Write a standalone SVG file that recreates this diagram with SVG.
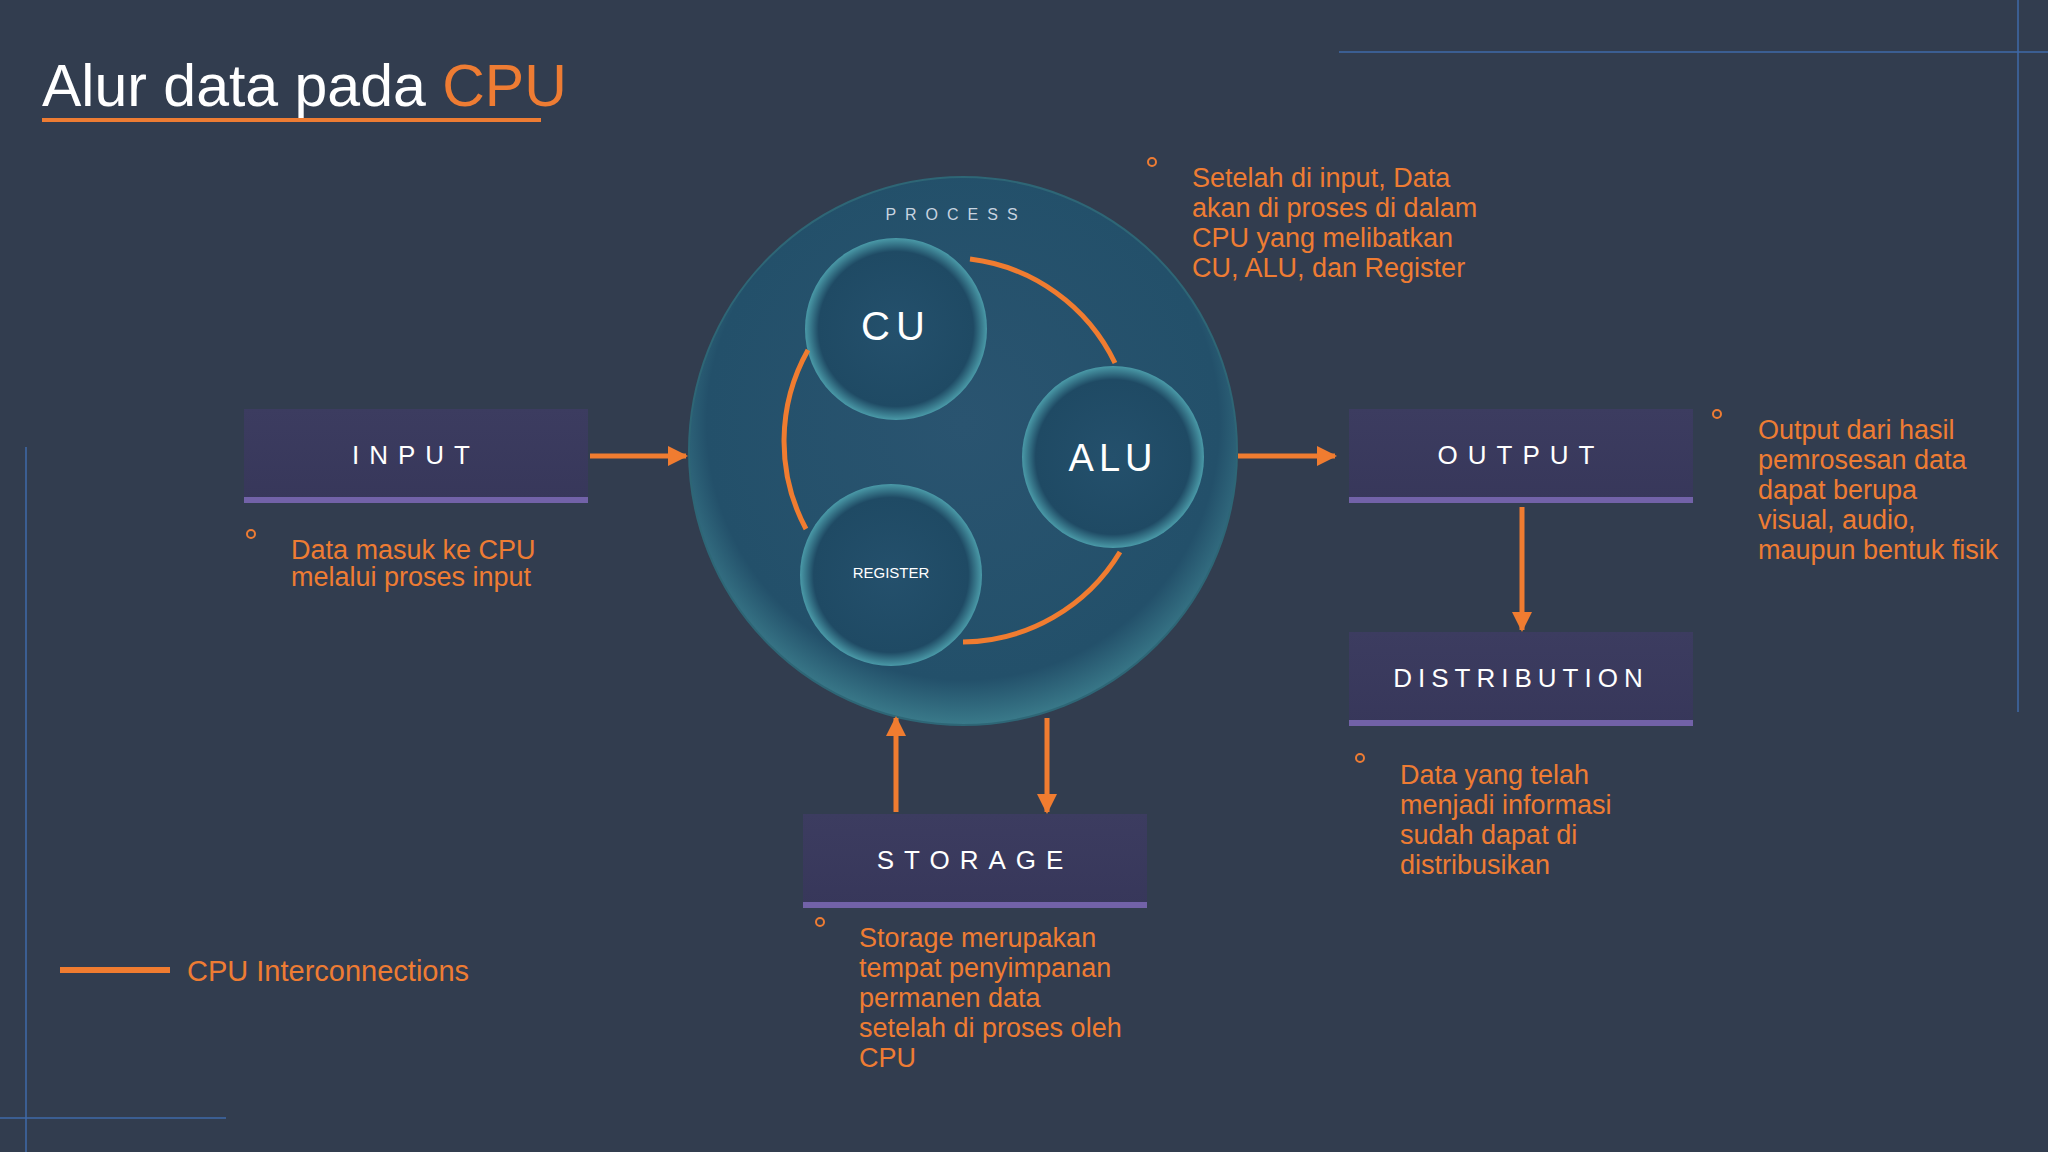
<svg xmlns="http://www.w3.org/2000/svg" width="2048" height="1152" viewBox="0 0 2048 1152">
<defs>
<radialGradient id="big" cx="50%" cy="45%" r="55%"><stop offset="0" stop-color="#2a5470"/><stop offset="0.85" stop-color="#23506a"/><stop offset="1" stop-color="#3a7a8a"/></radialGradient>
<radialGradient id="small" cx="50%" cy="50%" r="50%"><stop offset="0" stop-color="#24506c"/><stop offset="0.85" stop-color="#1f4a64"/><stop offset="1" stop-color="#4a9aa8"/></radialGradient>
<linearGradient id="bx" x1="0" y1="0" x2="0" y2="1"><stop offset="0" stop-color="#3c3c60"/><stop offset="1" stop-color="#37375a"/></linearGradient>
<marker id="ah" viewBox="0 0 10 10" refX="9" refY="5" markerWidth="4" markerHeight="4" orient="auto"><path d="M0,0L10,5L0,10z" fill="#f07c30"/></marker>
</defs>
<style>
.t{font-family:"Liberation Sans",Arial,sans-serif}
.o{fill:#ee7c33;font-size:27px}
.box{fill:url(#bx)}
.bb{fill:#7262a8}
.bl{fill:#ffffff;font-size:26px;letter-spacing:10px;text-anchor:middle}
.ln{stroke:#f07c30;stroke-width:5;fill:none}
.bul{fill:none;stroke:#ee7c33;stroke-width:2}
.thin{stroke:#3f6aa8;stroke-width:1.5}
</style>
<rect width="2048" height="1152" fill="#323d4f"/>
<line class="thin" x1="1339" y1="52" x2="2048" y2="52"/>
<line class="thin" x1="2018" y1="0" x2="2018" y2="712"/>
<line class="thin" x1="26" y1="447" x2="26" y2="1152"/>
<line class="thin" x1="0" y1="1118" x2="226" y2="1118"/>
<text class="t" x="42" y="106" font-size="59" fill="#ffffff">Alur data pada <tspan fill="#ee7c33">CPU</tspan></text>
<line x1="42" y1="120" x2="541" y2="120" stroke="#ee7c33" stroke-width="4"/>
<g id="process">
<circle cx="963" cy="451" r="274" fill="url(#big)" stroke="#2e6676" stroke-width="2"/>
<text class="t" x="956" y="220" font-size="16" fill="#c8d4e0" letter-spacing="9" text-anchor="middle">PROCESS</text>
</g>
<g id="cu"><circle cx="896" cy="329" r="91" fill="url(#small)"/><text class="t" x="896" y="340" font-size="40" fill="#ffffff" letter-spacing="6" text-anchor="middle">CU</text></g>
<g id="alu"><circle cx="1113" cy="457" r="91" fill="url(#small)"/><text class="t" x="1113" y="471" font-size="38" fill="#ffffff" letter-spacing="5" text-anchor="middle">ALU</text></g>
<g id="register"><circle cx="891" cy="575" r="91" fill="url(#small)"/><text class="t" x="891" y="578" font-size="15" fill="#ffffff" text-anchor="middle">REGISTER</text></g>
<g id="input"><rect class="box" x="244" y="409" width="344" height="94"/><rect class="bb" x="244" y="497" width="344" height="6"/><text class="t bl" x="416" y="464">INPUT</text></g>
<g id="output"><rect class="box" x="1349" y="409" width="344" height="94"/><rect class="bb" x="1349" y="497" width="344" height="6"/><text class="t bl" x="1521" y="464">OUTPUT</text></g>
<g id="distribution"><rect class="box" x="1349" y="632" width="344" height="94"/><rect class="bb" x="1349" y="720" width="344" height="6"/><text class="t bl" x="1521" y="687" style="letter-spacing:6px">DISTRIBUTION</text></g>
<g id="storage"><rect class="box" x="803" y="814" width="344" height="94"/><rect class="bb" x="803" y="902" width="344" height="6"/><text class="t bl" x="975" y="869">STORAGE</text></g>
<g id="connectors">
<path class="ln" d="M970,259 A186,186 0 0 1 1115,363"/>
<path class="ln" d="M806,529 A186,186 0 0 1 808,350"/>
<path class="ln" d="M1120,552 A186,186 0 0 1 963,642"/>
<line class="ln" x1="590" y1="456" x2="686" y2="456" marker-end="url(#ah)"/>
<line class="ln" x1="1238" y1="456" x2="1335" y2="456" marker-end="url(#ah)"/>
<line class="ln" x1="1522" y1="507" x2="1522" y2="630" marker-end="url(#ah)"/>
<line class="ln" x1="896" y1="812" x2="896" y2="718" marker-end="url(#ah)"/>
<line class="ln" x1="1047" y1="718" x2="1047" y2="812" marker-end="url(#ah)"/>
<line x1="60" y1="970" x2="170" y2="970" stroke="#f07c30" stroke-width="6"/>
</g>
<text class="t o" x="187" y="981" style="font-size:29px">CPU Interconnections</text>
<circle class="bul" cx="251" cy="534" r="4"/>
<text class="t o"><tspan x="291" y="559">Data masuk ke CPU</tspan><tspan x="291" y="586">melalui proses input</tspan></text>
<circle class="bul" cx="1152" cy="162" r="4"/>
<text class="t o"><tspan x="1192" y="187">Setelah di input, Data</tspan><tspan x="1192" y="217">akan di proses di dalam</tspan><tspan x="1192" y="247">CPU yang melibatkan</tspan><tspan x="1192" y="277">CU, ALU, dan Register</tspan></text>
<circle class="bul" cx="1717" cy="414" r="4"/>
<text class="t o"><tspan x="1758" y="439">Output dari hasil</tspan><tspan x="1758" y="469">pemrosesan data</tspan><tspan x="1758" y="499">dapat berupa</tspan><tspan x="1758" y="529">visual, audio,</tspan><tspan x="1758" y="559">maupun bentuk fisik</tspan></text>
<circle class="bul" cx="1360" cy="758" r="4"/>
<text class="t o"><tspan x="1400" y="784">Data yang telah</tspan><tspan x="1400" y="814">menjadi informasi</tspan><tspan x="1400" y="844">sudah dapat di</tspan><tspan x="1400" y="874">distribusikan</tspan></text>
<circle class="bul" cx="820" cy="922" r="4"/>
<text class="t o"><tspan x="859" y="947">Storage merupakan</tspan><tspan x="859" y="977">tempat penyimpanan</tspan><tspan x="859" y="1007">permanen data</tspan><tspan x="859" y="1037">setelah di proses oleh</tspan><tspan x="859" y="1067">CPU</tspan></text>
</svg>
